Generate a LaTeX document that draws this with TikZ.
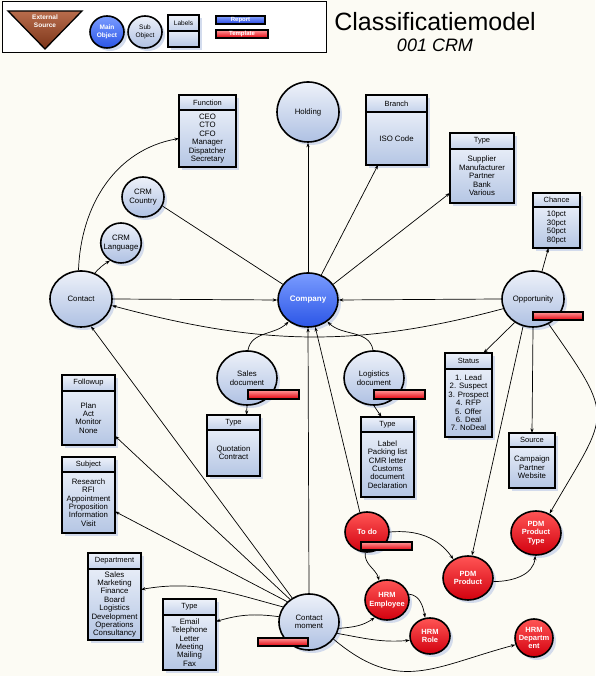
\documentclass[tikz,border=0pt]{standalone}
\usepackage{fontspec}
\setmainfont{Liberation Sans}
\usetikzlibrary{arrows.meta, positioning, shapes.geometric, calc, shadows}

\definecolor{bgcream}{HTML}{FCFBF4}
\definecolor{hdrtop}{HTML}{EEF2FA}
\definecolor{hdrbot}{HTML}{C3D1EA}
\definecolor{boxtop}{HTML}{E6ECF7}
\definecolor{boxbot}{HTML}{B5C6E4}
\definecolor{subtop}{HTML}{EDF1F9}
\definecolor{subbot}{HTML}{AFC1E3}
\definecolor{maintop}{HTML}{7A9CFF}
\definecolor{mainbot}{HTML}{2B55E6}
\definecolor{redtop}{HTML}{FF5555}
\definecolor{redbot}{HTML}{D2000E}
\definecolor{tmpltop}{HTML}{FF9A9A}
\definecolor{tmplbot}{HTML}{E2000C}
\definecolor{rpttop}{HTML}{8AA6FF}
\definecolor{rptbot}{HTML}{2545E0}
\definecolor{browntop}{HTML}{B86C4C}
\definecolor{brownbot}{HTML}{7C3519}
\definecolor{shadowc}{HTML}{C9D4EA}

\begin{document}
\begin{tikzpicture}[
    x=1pt, y=1pt,
    >={Stealth[length=4.5pt, width=3.2pt]},
    lbl/.style={draw, line width=1.6pt, outer sep=0pt, inner sep=1.5pt,
                top color=hdrtop, bottom color=hdrbot,
                font=\fontsize{7.5}{8.4}\selectfont,
                drop shadow={shadow xshift=3pt, shadow yshift=-3pt,
                             fill=shadowc, opacity=0.8}},
    lblbody/.style={lbl, top color=boxtop, bottom color=boxbot, align=center,
                    font=\fontsize{7.8}{8.4}\selectfont},
    subobj/.style={ellipse, draw, line width=1.6pt, inner sep=-3pt,
                   align=center, top color=subtop, bottom color=subbot,
                   font=\fontsize{7.8}{8.6}\selectfont,
                   drop shadow={shadow xshift=3pt, shadow yshift=-3pt,
                                fill=shadowc, opacity=0.8}},
    mainobj/.style={subobj, top color=maintop, bottom color=mainbot,
                    text=white, font=\bfseries\fontsize{8}{8.6}\selectfont},
    redobj/.style={subobj, top color=redtop, bottom color=redbot,
                   text=white, font=\bfseries\fontsize{7.5}{8.4}\selectfont},
    tmpl/.style={draw, line width=1.3pt, inner sep=0pt, minimum width=51pt,
                 minimum height=8pt, top color=tmpltop, bottom color=tmplbot,
                 text=white, font=\bfseries\fontsize{6}{6}\selectfont},
    rpt/.style={tmpl, top color=rpttop, bottom color=rptbot},
    link/.style={line width=0.7pt}
  ]
  \useasboundingbox (0,0) rectangle (595,676);
  \fill[bgcream] (0,0) rectangle (595,676);

  % Legend
  \draw[line width=1pt, fill=white] (2,623) rectangle (326,674);
  \draw[line width=1.3pt, top color=browntop, bottom color=brownbot]
    (8,665) -- (82,665) -- (45,627) -- cycle;
  \node[text=white, align=center, font=\bfseries\fontsize{6.5}{7.5}\selectfont]
    (extsrc) at (45,655) {External\\Source};
  \node[mainobj, minimum width=34pt, minimum height=32pt,
        font=\bfseries\fontsize{6.5}{7.5}\selectfont] (legmain) at (107,644) {Main\\Object};
  \node[subobj, minimum width=34pt, minimum height=32pt,
        font=\fontsize{6.5}{7.5}\selectfont] (legsub) at (145,644) {Sub\\Object};
  \node[lbl, minimum width=31pt, minimum height=16pt,
        font=\fontsize{6.5}{7.5}\selectfont] (leglbl) at (183.5,653) {Labels};
  \node[lblbody, minimum width=31pt, minimum height=16pt, below=0pt of leglbl] (leglblb) {};
  \node[rpt, minimum width=49pt] (legrpt) at (240.5,656) {Report};
  \node[tmpl, minimum width=52pt] (legtmpl) at (242,642) {Template};

  % Title
  \node[anchor=base, font=\fontsize{25}{28}\selectfont] (title) at (435,645) {Classificatiemodel};
  \node[anchor=base, font=\itshape\fontsize{18}{20}\selectfont] (subtitle) at (435,624) {001 CRM};

  % Label boxes
  \node[lbl, minimum width=57pt, minimum height=15pt] (funh) at (207.5,573.5) {Function};
  \node[lblbody, minimum width=57pt, minimum height=57pt, below=0pt of funh] (funb)
    {CEO\\CTO\\CFO\\Manager\\Dispatcher\\Secretary};
  \node[lbl, minimum width=61pt, minimum height=17pt] (brh) at (396.5,572.5) {Branch};
  \node[lblbody, minimum width=61pt, minimum height=53pt, below=0pt of brh] (brb) {ISO Code};
  \node[lbl, minimum width=64pt, minimum height=16pt] (typh1) at (482,535) {Type};
  \node[lblbody, minimum width=64pt, minimum height=54pt, below=0pt of typh1] (typb1)
    {Supplier\\Manufacturer\\Partner\\Bank\\Various};
  \node[lbl, minimum width=47pt, minimum height=14pt] (chh) at (556.5,476) {Chance};
  \node[lblbody, minimum width=47pt, minimum height=41pt, below=0pt of chh] (chb)
    {10pct\\30pct\\50pct\\80pct};
  \node[lbl, minimum width=53pt, minimum height=15pt] (typh2) at (233.5,253.5) {Type};
  \node[lblbody, minimum width=53pt, minimum height=46pt, below=0pt of typh2] (typb2)
    {Quotation\\Contract};
  \node[lbl, minimum width=53pt, minimum height=15pt] (typh3) at (387.5,251.5) {Type};
  \node[lblbody, minimum width=53pt, minimum height=65pt, below=0pt of typh3] (typb3)
    {Label\\Packing list\\CMR letter\\Customs\\document\\Declaration};
  \node[lbl, minimum width=47pt, minimum height=16pt] (sth) at (468.5,315) {Status};
  \node[lblbody, minimum width=47pt, minimum height=68pt, below=0pt of sth] (stb)
    {1. Lead\\2. Suspect\\3. Prospect\\4. RFP\\5. Offer\\6. Deal\\7. NoDeal};
  \node[lbl, minimum width=46pt, minimum height=14pt] (srh) at (532,236) {Source};
  \node[lblbody, minimum width=46pt, minimum height=41pt, below=0pt of srh] (srb)
    {Campaign\\Partner\\Website};
  \node[lbl, minimum width=53pt, minimum height=16pt] (fuh) at (88.5,293) {Followup};
  \node[lblbody, minimum width=53pt, minimum height=54pt, below=0pt of fuh] (fub)
    {Plan\\Act\\Monitor\\None};
  \node[lbl, minimum width=53pt, minimum height=15pt] (sbh) at (88.5,211.5) {Subject};
  \node[lblbody, minimum width=53pt, minimum height=61pt, below=0pt of sbh] (sbb)
    {Research\\RFI\\Appointment\\Proposition\\Information\\Visit};
  \node[lbl, minimum width=53pt, minimum height=16pt] (dph) at (114.5,115) {Department};
  \node[lblbody, minimum width=53pt, minimum height=71pt, below=0pt of dph] (dpb)
    {Sales\\Marketing\\Finance\\Board\\Logistics\\Development\\Operations\\Consultancy};
  \node[lbl, minimum width=53pt, minimum height=16pt] (typh4) at (189.5,69) {Type};
  \node[lblbody, minimum width=53pt, minimum height=55pt, below=0pt of typh4] (typb4)
    {Email\\Telephone\\Letter\\Meeting\\Mailing\\Fax};

  % Objects
  \node[subobj, minimum width=62pt, minimum height=60pt] (hold) at (308,564) {Holding};
  \node[subobj, minimum width=42pt, minimum height=40pt] (ctry) at (143,479) {CRM\\Country};
  \node[subobj, minimum width=40pt, minimum height=40pt] (lang) at (121,433) {CRM\\Language};
  \node[subobj, minimum width=62pt, minimum height=56pt] (cont) at (81,377) {Contact};
  \node[mainobj, minimum width=60pt, minimum height=54pt] (comp) at (308,376) {Company};
  \node[subobj, minimum width=62pt, minimum height=56pt] (opp) at (533,377) {Opportunity};
  \node[subobj, minimum width=60pt, minimum height=54pt] (sales) at (247,298) {Sales\\document};
  \node[subobj, minimum width=60pt, minimum height=54pt] (logi) at (374,298) {Logistics\\document};
  \node[subobj, minimum width=60pt, minimum height=56pt] (cm) at (309,54) {Contact\\moment};
  \node[redobj, minimum width=44pt, minimum height=40pt] (todo) at (367,144) {To do};
  \node[redobj, minimum width=44pt, minimum height=40pt] (hrme) at (387,76) {HRM\\Employee};
  \node[redobj, minimum width=40pt, minimum height=36pt] (hrmr) at (430,40) {HRM\\Role};
  \node[redobj, minimum width=50pt, minimum height=44pt] (pdmp) at (468,98) {PDM\\Product};
  \node[redobj, minimum width=50pt, minimum height=44pt] (pdmt) at (536,143) {PDM\\Product\\Type};
  \node[redobj, minimum width=38pt, minimum height=38pt] (hrmd) at (534,38) {HRM\\Departm\\ent};

  % Templates
  \node[tmpl, minimum width=50pt] (opptp) at (558,360) {};
  \node[tmpl, minimum height=9pt] (salestp) at (273.5,281.5) {};
  \node[tmpl, minimum height=9pt] (logitp) at (399.5,281.5) {};
  \node[tmpl, minimum width=50pt] (cmtp) at (283,34) {};
  \node[tmpl] (todotp) at (386.5,130) {};

  % Contact
  \draw[link,->] (cont.95) to[out=88,in=190] (funb.west);
  \draw[link,->] (cont.62) to[bend left=8] (lang.238);
  \draw[link,->] (cont.east) -- (comp.west);

  % Company
  \draw[link] (comp.148) -- (ctry.-25);
  \draw[link,->] (comp.north) -- (hold.south);
  \draw[link,->] (comp.62) -- ($(brb.south west)+(12,0)$);
  \draw[link,->] (comp.32) -- ($(typb1.west)+(0,-17)$);

  % Opportunity
  \draw[link,->] (opp.west) -- (comp.east);
  \draw[link,->] (opp.198) to[out=195,in=-15] (cont.-12);
  \draw[link,->] (opp.72) -- ($(chb.south)+(-8,0)$);
  \draw[link,->] (opp.232) -- ($(sth.north)+(15,0)$);
  \draw[link,->] (opp.south) -- (srh.north);
  \draw[link,->] (opp.250) -- (pdmp.80);
  \draw[link,->] (opp.-58) to[out=-55,in=60,looseness=1.6] (pdmt.55);

  % Documents
  \draw[link,->] (sales.88) to[out=80,in=225] (comp.228);
  \draw[link,->] (logi.92) to[out=100,in=-45] (comp.-48);
  \draw[link,->] (sales.south) -- ($(typh2.north)+(13,0)$);
  \draw[link,->] (logi.south) -- ($(typh3.north)+(-6,0)$);

  % Contact moment
  \draw[link,->] (cm.north) -- (comp.south);
  \draw[link,->] (cm.125) -- (cont.-70);
  \draw[link,->] (cm.130) -- ($(fub.east)+(0,-18)$);
  \draw[link,->] (cm.137) -- ($(sbb.east)+(0,-9)$);
  \draw[link,->] (cm.150) to[out=165,in=10] ($(dpb.east)+(0,15)$);
  \draw[link,->] (cm.170) to[bend right=12] ($(typb4.east)+(0,21)$);
  \draw[link,->] (cm.-12) to[out=5,in=215] (hrme.235);
  \draw[link,->] (cm.-22) to[out=-10,in=185] (hrmr.192);
  \draw[link,->] (cm.-35) to[out=-40,in=195,looseness=1.2] (hrmd.200);

  % To do
  \draw[link,->] (todo.110) -- (comp.-75);
  \draw[link,->] (todo.east) to[out=5,in=125] (pdmp.128);
  \draw[link,->] (todo.265) to[out=-95,in=105] (hrme.112);
  \draw[link,->] (hrme.15) to[out=-5,in=100] (hrmr.105);
  \draw[link,->] (pdmp.-8) to[out=0,in=-95] (pdmt.268);
\end{tikzpicture}
\end{document}
